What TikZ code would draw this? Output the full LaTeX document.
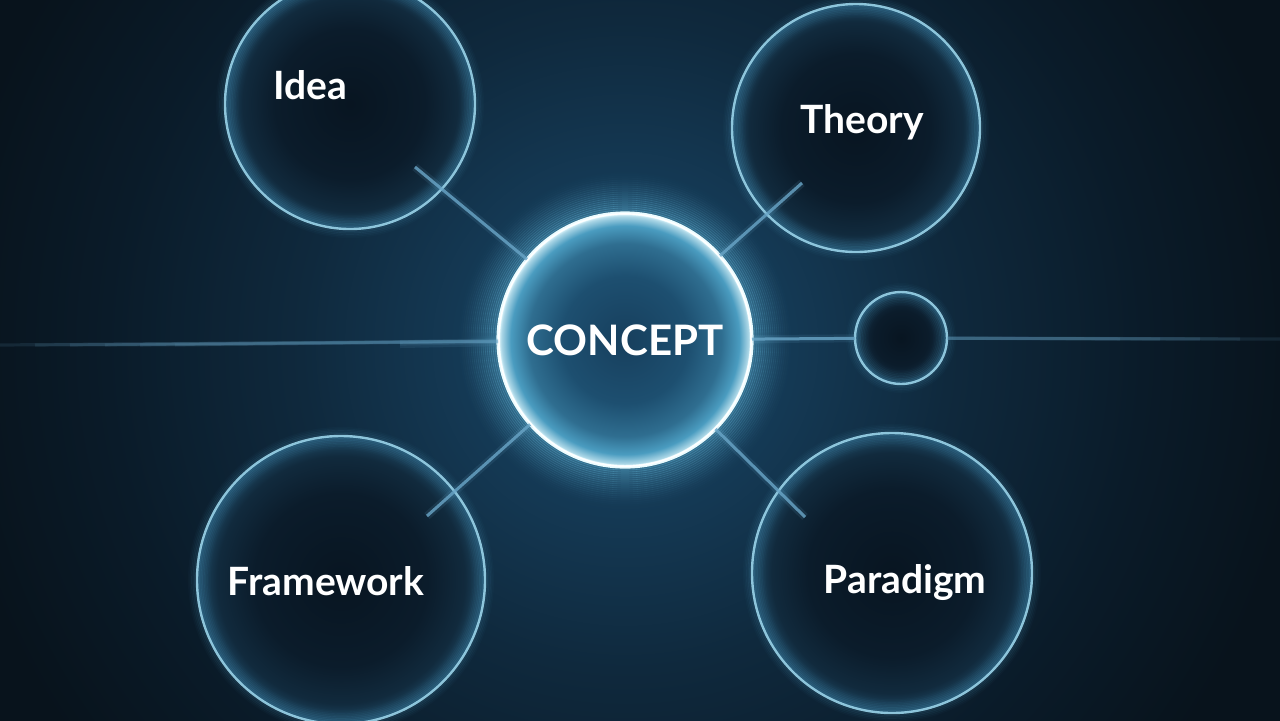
\documentclass[tikz,border=0pt]{standalone}
\usepackage{fontspec}
\setmainfont{Lato}
\usetikzlibrary{calc}
\definecolor{bgdark}{HTML}{08131C}
\definecolor{bgA}{HTML}{1C4D6F}
\definecolor{bgB}{HTML}{153B57}
\definecolor{bgC}{HTML}{0F293D}
\definecolor{bgD}{HTML}{0A1B29}
\definecolor{rim}{HTML}{9AD4EA}
\definecolor{rimglow}{HTML}{4E9BC0}
\definecolor{linec}{HTML}{6AA6C8}
\definecolor{satin}{HTML}{081521}
\definecolor{satmid}{HTML}{0B1C2B}
\definecolor{satedge}{HTML}{1F4B67}
\definecolor{cin}{HTML}{173F5D}
\definecolor{cmid}{HTML}{1D4F70}
\definecolor{cedge}{HTML}{4A9CC0}
\definecolor{crim}{HTML}{EAFCFF}
\definecolor{cglow}{HTML}{6CC8EC}
% radial shadings: the circle edge sits at 25bp
\pgfdeclareradialshading{bgshade}{\pgfpointorigin}{color(0bp)=(bgA); color(4.6bp)=(bgB); color(10bp)=(bgC); color(16bp)=(bgD); color(21bp)=(bgdark); color(50bp)=(bgdark)}
\pgfdeclareradialshading{satshade}{\pgfpointorigin}{color(0bp)=(satin); color(15bp)=(satmid); color(21.5bp)=(satmid!70!satedge); color(25bp)=(satedge); color(50bp)=(satedge)}
\pgfdeclareradialshading{conshade}{\pgfpointorigin}{color(0bp)=(cin); color(12.5bp)=(cmid); color(19bp)=(cmid!60!cedge); color(22.5bp)=(cedge); color(24.3bp)=(crim!60!cedge); color(25bp)=(crim); color(50bp)=(crim)}
\tikzset{
  sat/.style={circle, inner sep=0pt, outer sep=0pt, shade, shading=satshade},
  core/.style={circle, inner sep=0pt, outer sep=0pt, shade, shading=conshade},
  conn/.style={draw=linec, line width=1.5pt, opacity=0.8},
  connglow/.style={draw=linec, line width=4pt, opacity=0.12},
  connfade/.style={draw=linec, line width=1.6pt, opacity=0.13},
  lbl/.style={text=white, anchor=base, inner sep=0pt, font=\bfseries\fontsize{19.5}{19.5}\selectfont},
}
\newcommand\satrim[2]{%
  \foreach \k [evaluate=\k as \op using {0.22*(1-\k/9)}] in {1,...,8}
    {\draw[rimglow, line width=1pt, opacity=\op] (#1.center) circle ({#2-\k*0.8pt});}
  \foreach \k [evaluate=\k as \op using {0.18*(1-\k/6)}] in {1,...,5}
    {\draw[rimglow, line width=1pt, opacity=\op] (#1.center) circle ({#2+\k*0.8pt});}
  \draw[rim, line width=1.2pt, opacity=0.9] (#1.center) circle (#2);
}
\begin{document}
\begin{tikzpicture}[x=0.5pt,y=-0.5pt]
\useasboundingbox (0,0) rectangle (1280,720);
\fill[bgdark] (0,0) rectangle (1280,720);
\begin{scope}
\clip (0,0) rectangle (1280,720);
\shade[shading=bgshade] (625,345) circle (405pt);
\end{scope}

% satellite circles
\node[sat, minimum size=125pt] (idea) at (350,104) {};
\node[sat, minimum size=124pt] (theory) at (856,128) {};
\node[sat, minimum size=144pt] (framework) at (341,580) {};
\node[sat, minimum size=140pt] (paradigm) at (892,573) {};
\node[sat, minimum size=46pt] (small) at (901,338) {};
\satrim{idea}{62.5pt}
\satrim{theory}{62pt}
\satrim{framework}{72pt}
\satrim{paradigm}{70pt}
\satrim{small}{23pt}

% concept glow
\coordinate (cc) at (625,340);
\foreach \k [evaluate=\k as \op using {0.36*(1-\k/21)^1.6}] in {1,...,20}
  {\draw[cglow, line width=1.3pt, opacity=\op] (cc) circle ({63.5pt+\k*1pt});}
\node[core, minimum size=127pt] (concept) at (cc) {};
\draw[crim, line width=1.8pt] (concept.center) circle (63.4pt);
\draw[white, line width=0.7pt] (concept.center) circle (63.1pt);

% free ends of connectors
\foreach \x [count=\i] in {0,35,70,105,140,175}
  {\coordinate (left\i) at (\x,345);}
\coordinate (leftnear) at (400,344);
\foreach \x [count=\i] in {1280,1240,1200,1160,1120}
  {\coordinate (right\i) at (\x,339);}
\coordinate (ideaend) at (415,167);
\coordinate (theoryend) at (802,183);
\coordinate (frameend) at (427,516);
\coordinate (paraend) at (805,517);

% connectors
\foreach \i in {1,...,6}{\draw[connfade] (left\i) -- (concept);}
\draw[connglow] (leftnear) -- (concept);
\draw[connfade] (leftnear) -- (concept);
\draw[connglow] (concept) -- (small);
\draw[conn] (concept) -- (small);
\foreach \i in {1,...,5}{\draw[connfade] (small) -- (right\i);}
\foreach \e in {ideaend,theoryend,frameend,paraend}{
  \draw[connglow] (concept) -- (\e);
  \draw[conn] (concept) -- (\e);
}

% labels
\node[lbl, font=\bfseries\fontsize{21}{21}\selectfont] (tconcept) at (625,355) {CONCEPT};
\node[lbl] (tidea) at (310,99) {Idea};
\node[lbl] (ttheory) at (862,133) {Theory};
\node[lbl] (tframe) at (326,595) {Framework};
\node[lbl] (tpara) at (905,593) {Paradigm};
\end{tikzpicture}
\end{document}
